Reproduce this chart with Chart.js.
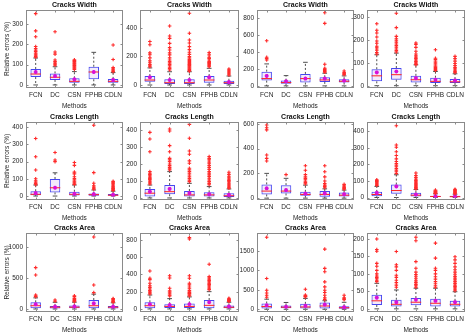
<!DOCTYPE html>
<html>
<head>
<meta charset="utf-8">
<script src="https://cdn.jsdelivr.net/npm/chart.js@4.4.1/dist/chart.umd.min.js"></script>
<style>
  html, body { margin: 0; padding: 0; background: #ffffff; }
  body { width: 474px; height: 334px; position: relative; overflow: hidden; }
  canvas { position: absolute; }
</style>
</head>
<body>
<script>
// ---- data: 12 panels (rows: width, length, area; 4 test sets each) ----
const methods = ['FCN', 'DC', 'CSN', 'FPHB', 'CDLN'];
const panelTitles = [
  'Cracks Width', 'Cracks Width', 'Cracks Width', 'Cracks Width',
  'Cracks Length', 'Cracks Length', 'Cracks Length', 'Cracks Length',
  'Cracks Area', 'Cracks Area', 'Cracks Area', 'Cracks Area'
];
const yMin = [-15, -21, -25, -10, -23, -12, -15, -15, -48, -35, -70, -9];
const yMax = [370, 526, 895, 330, 430, 447, 615, 455, 1225, 881, 1966, 217];
const yTicks = [
  [0, 100, 200, 300], [0, 200, 400], [0, 200, 400, 600, 800], [0, 100, 200, 300],
  [0, 100, 200, 300, 400], [0, 100, 200, 300, 400], [0, 200, 400, 600], [0, 100, 200, 300, 400],
  [0, 500, 1000], [0, 200, 400, 600, 800], [0, 500, 1000, 1500], [0, 50, 100, 150, 200]
];

const q1 = [
  [39, 25, 11, 28, 11], [23, 7, 7, 16, 7], [62, 24, 39, 47, 39], [19, 26, 14, 12, 12],
  [5, 21, 3, 2, 1], [8, 22, 8, 8, 6], [30, 38, 19, 11, 14], [8, 22, 6, 3, 3],
  [11, 10, 12, 11, 10], [8, 10, 10, 8, 8], [20, 25, 20, 18, 15], [11, 7, 10, 7, 7]
];
const median = [
  [54, 38, 18, 64, 18], [35, 16, 16, 35, 16], [86, 39, 86, 70, 55], [43, 48, 26, 19, 17],
  [10, 48, 10, 8, 5], [28, 37, 18, 18, 13], [57, 57, 30, 30, 24], [18, 42, 14, 6, 5],
  [53, 30, 30, 53, 30], [38, 30, 30, 42, 20], [70, 55, 60, 85, 40], [23, 13, 19, 16, 13]
];
const q3 = [
  [79, 57, 33, 90, 30], [63, 40, 40, 63, 30], [168, 62, 141, 102, 79], [72, 77, 43, 35, 29],
  [28, 99, 25, 15, 12], [53, 76, 41, 33, 28], [111, 105, 51, 57, 46], [34, 78, 28, 10, 10],
  [108, 50, 55, 145, 50], [78, 55, 65, 104, 40], [150, 100, 140, 173, 80], [40, 26, 31, 29, 23]
];
const whiskerLow = [
  [0, 0, 0, 0, 0], [0, 0, 0, 0, 0], [0, 0, 0, 0, 0], [0, 0, 0, 0, 0],
  [0, 0, 0, 0, 0], [0, 0, 0, 0, 0], [0, 0, 0, 0, 0], [0, 0, 0, 0, 0],
  [0, 0, 0, 0, 0], [0, 0, 0, 0, 0], [0, 0, 0, 0, 0], [0, 0, 0, 0, 0]
];
const whiskerHigh = [
  [133, 90, 66, 161, 61], [120, 93, 93, 117, 63], [259, 121, 278, 149, 118], [135, 142, 91, 62, 52],
  [64, 135, 64, 35, 28], [76, 155, 86, 67, 53], [200, 160, 105, 75, 65], [67, 137, 48, 22, 20],
  [180, 108, 110, 240, 100], [162, 120, 140, 201, 78], [260, 175, 280, 220, 180], [73, 54, 59, 59, 49]
];
const means = [
  [64, 44, 28, 64, 25], [54, 35, 35, 54, 21], [118, 55, 86, 86, 63], [58, 62, 33, 26, 23],
  [17, 48, 13, 11, 8], [37, 53, 28, 22, 18], [79, 65, 37, 38, 32], [28, 67, 18, 8, 8],
  [76, 40, 42, 92, 40], [54, 45, 55, 78, 30], [104, 65, 90, 122, 55], [32, 19, 26, 23, 19]
];
const outliers = [
  [[352, 267, 238, 190, 180, 172, 165, 158, 152, 147, 141, 137], [263, 163, 152, 123, 115, 108, 102, 97],
   [124, 120, 116, 112, 108, 104, 100, 96, 92, 88, 84, 80, 76], [], [197, 126, 86, 80, 75, 70, 66]],
  [[305, 282, 225, 212, 190, 170, 160, 145, 135, 128],
   [414, 344, 327, 292, 262, 246, 225, 211, 190, 175, 165, 155, 145, 135, 125, 115, 105],
   [503, 363, 316, 295, 269, 248, 230, 215, 200, 190, 180, 172, 165, 158, 150, 144, 138, 132, 126, 120, 114, 108, 102, 96],
   [227, 211, 195, 187, 175, 164, 158, 152, 146, 140, 134, 128], [112, 105, 98, 91, 84, 77, 70]],
  [[533, 338, 322, 306], [], [], [862, 737, 255, 208, 195, 182, 168, 160], [176, 157, 145, 133]],
  [[270, 242, 230, 212, 195, 185, 172, 165, 155, 145, 138],
   [316, 253, 215, 205, 198, 190, 182, 175, 168, 160, 153, 147],
   [186, 180, 167, 150, 138, 130, 124, 118, 112, 106, 100, 96, 92],
   [157, 120, 114, 108, 102, 96, 90, 85, 80, 75, 70, 66], [128, 118, 107, 97, 88, 80, 74, 68, 62, 57]],
  [[334, 228, 151, 100, 88, 80, 72, 66], [253, 209, 200],
   [195, 178, 140, 134, 128, 112, 102, 94, 86, 80, 74, 68], [411, 136, 74, 60, 52, 45, 40],
   [85, 80, 75, 70, 64, 58, 53, 48, 44, 40, 36, 32]],
  [[386, 347, 272, 155, 145, 138, 130, 122, 115, 108, 100, 94, 88, 82],
   [406, 394, 308, 272, 233, 224, 214, 200, 190, 180, 172, 165],
   [433, 351, 276, 257, 218, 204, 175, 165, 155, 145, 135, 125, 115, 105, 96],
   [243, 232, 224, 212, 204, 192, 180, 168, 156, 146, 136, 126, 116, 106, 96, 86, 78],
   [151, 139, 128, 118, 110, 102, 95, 88, 82, 76, 70, 64, 58]],
  [[591, 569, 551, 348, 321, 300], [190], [262, 225, 190, 172, 160, 148, 136, 125, 115],
   [262, 213, 172, 138, 118, 105, 95, 84], [111, 100, 92, 85, 78, 72]],
  [[107, 102, 97, 92, 87, 82, 77, 72],
   [432, 316, 303, 276, 253, 233, 217, 205, 195, 185, 175, 165, 155, 145],
   [148, 132, 120, 110, 102, 95, 88, 82, 76, 70, 65, 60, 56, 52],
   [45, 41, 38, 35, 32, 29, 26, 24], [50, 46, 42, 38, 35, 32, 29, 26, 23]],
  [[667, 548, 226, 210, 200], [145, 125], [215, 199, 172, 155, 140, 128, 118], [1161, 387, 265],
   [170, 155, 142, 130, 120, 110]],
  [[440, 356, 340, 298, 270, 250, 232, 215, 200, 188, 175], [386, 360, 240, 210, 195, 175, 160, 150],
   [827, 812, 386, 356, 298, 280, 255, 235, 215, 200, 190, 180, 170, 160, 150],
   [518, 375, 360, 345, 330, 315, 300, 285, 270, 255, 240, 225], [124, 115, 108, 100, 94, 88]],
  [[1857, 795, 490, 420, 360, 310], [], [518, 365, 345, 330, 315],
   [1550, 1054, 966, 707, 578, 492, 432, 363, 293, 250], [363, 295, 270, 250]],
  [[200, 170, 165, 130, 122, 110, 100, 94, 90, 86, 82, 78],
   [164, 126, 120, 110, 96, 90, 82, 75, 68, 62],
   [205, 195, 135, 116, 105, 98, 92, 86, 80, 75, 70, 66, 62],
   [188, 145, 116, 110, 100, 92, 85, 78, 72, 66, 62],
   [149, 140, 130, 120, 112, 105, 99, 93, 88, 83, 78, 73, 68, 64, 60, 56, 52]]
];

// ---- page layout of the 3 x 4 grid of axes (plot-area edges in px) ----
const COL_LEFT = [26, 140, 257, 367];
const COL_RIGHT = [125, 241, 356, 467];
const ROW_TOP = [10, 122, 233];
const ROW_BOTTOM = [88, 200, 312];
const Y_AXIS_W = 26, X_AXIS_H = 24, TITLE_H = 10, RIGHT_PAD = 3;

const BOX_HALF = 0.27;   // half box width in category units
const CAP_HALF = 0.12;   // half whisker-cap width

const FONT = '"Liberation Sans", Arial, Helvetica, sans-serif';
const TEXT_COLOR = '#262626';

// frame around each axes with small inward tick marks
const framePlugin = {
  id: 'frame',
  afterDatasetsDraw(chart) {
    const { ctx, chartArea: a, scales: { x, y } } = chart;
    ctx.save();
    ctx.strokeStyle = '#8a8a8a';
    ctx.lineWidth = 1;
    const L = Math.round(a.left) + 0.5, R = Math.round(a.right) - 0.5;
    const T = Math.round(a.top) + 0.5, B = Math.round(a.bottom) - 0.5;
    ctx.strokeRect(L, T, R - L, B - T);
    ctx.beginPath();
    y.ticks.forEach(t => {
      const py = Math.round(y.getPixelForValue(t.value)) + 0.5;
      ctx.moveTo(L, py); ctx.lineTo(L + 2, py);
      ctx.moveTo(R, py); ctx.lineTo(R - 2, py);
    });
    x.ticks.forEach(t => {
      const px = Math.round(x.getPixelForValue(t.value)) + 0.5;
      ctx.moveTo(px, B); ctx.lineTo(px, B - 2);
      ctx.moveTo(px, T); ctx.lineTo(px, T + 2);
    });
    ctx.stroke();
    ctx.restore();
  }
};

function buildPanel(p) {
  const row = Math.floor(p / 4), col = p % 4;
  const plotW = COL_RIGHT[col] - COL_LEFT[col];
  const plotH = ROW_BOTTOM[row] - ROW_TOP[row];
  const canvas = document.createElement('canvas');
  const w = plotW + Y_AXIS_W + RIGHT_PAD;
  const h = plotH + TITLE_H + X_AXIS_H;
  canvas.width = w; canvas.height = h;
  canvas.style.width = w + 'px'; canvas.style.height = h + 'px';
  canvas.style.left = (COL_LEFT[col] - Y_AXIS_W) + 'px';
  canvas.style.top = (ROW_TOP[row] - TITLE_H) + 'px';
  document.body.appendChild(canvas);

  const boxes = [], whiskers = [], caps = [], medians = [], meanPts = [], outPts = [];
  methods.forEach((m, i) => {
    const xc = i + 1;
    boxes.push({ x: xc, y: [q1[p][i], q3[p][i]] });
    whiskers.push({ x: xc, y: q3[p][i] }, { x: xc, y: whiskerHigh[p][i] }, { x: xc, y: null },
                  { x: xc, y: q1[p][i] }, { x: xc, y: whiskerLow[p][i] }, { x: xc, y: null });
    caps.push({ x: xc - CAP_HALF, y: whiskerHigh[p][i] }, { x: xc + CAP_HALF, y: whiskerHigh[p][i] }, { x: xc, y: null },
              { x: xc - CAP_HALF, y: whiskerLow[p][i] }, { x: xc + CAP_HALF, y: whiskerLow[p][i] }, { x: xc, y: null });
    medians.push({ x: xc - BOX_HALF, y: median[p][i] }, { x: xc + BOX_HALF, y: median[p][i] }, { x: xc, y: null });
    meanPts.push({ x: xc, y: means[p][i] });
    outliers[p][i].forEach(v => outPts.push({ x: xc, y: v }));
  });

  const seg = { type: 'line', pointRadius: 0, tension: 0, fill: false, spanGaps: false };

  new Chart(canvas, {
    type: 'bar',
    data: {
      datasets: [
        { ...seg, data: outPts, showLine: false, pointRadius: 1.8, pointStyle: 'cross',
          pointBorderColor: '#ff2a2a', pointBorderWidth: 1.1, order: 0 },
        { ...seg, data: meanPts, showLine: false, pointRadius: 2, pointStyle: 'star',
          pointBorderColor: '#d810d8', pointBorderWidth: 1.2, order: 1 },
        { ...seg, data: medians, borderColor: '#ff2020', borderWidth: 1, order: 2 },
        { ...seg, data: caps, borderColor: '#222222', borderWidth: 0.8, order: 3 },
        { ...seg, data: whiskers, borderColor: '#222222', borderWidth: 0.8, borderDash: [2, 2], order: 4 },
        { type: 'bar', data: boxes, backgroundColor: 'rgba(214,190,242,0.3)', borderColor: '#4646f0',
          borderWidth: 1, borderSkipped: false, barPercentage: BOX_HALF * 2, categoryPercentage: 1, order: 5 }
      ]
    },
    options: {
      responsive: false,
      animation: false,
      devicePixelRatio: 1,
      layout: { padding: { left: 0, right: RIGHT_PAD, top: 0, bottom: 0 } },
      plugins: {
        legend: { display: false },
        tooltip: { enabled: false },
        title: {
          display: true, text: panelTitles[p], fullSize: false, color: '#111111',
          font: { family: FONT, size: 7, weight: 'bold', lineHeight: 1.2 },
          padding: { top: 1, bottom: 0.6 }
        }
      },
      scales: {
        x: {
          type: 'linear', min: 0.5, max: 5.5, offset: false,
          afterBuildTicks: s => { s.ticks = methods.map((m, i) => ({ value: i + 1 })); },
          afterFit: s => { s.height = X_AXIS_H; },
          ticks: { callback: v => methods[v - 1], color: TEXT_COLOR, autoSkip: false, maxRotation: 0,
                   padding: 3, font: { family: FONT, size: 6.5, lineHeight: 1.2 } },
          grid: { display: false, drawTicks: false },
          border: { display: false },
          title: { display: true, text: 'Methods', color: TEXT_COLOR, padding: { top: 0, bottom: 2 },
                   font: { family: FONT, size: 6.5, lineHeight: 1.2 } }
        },
        y: {
          type: 'linear', min: yMin[p], max: yMax[p],
          afterBuildTicks: s => { s.ticks = yTicks[p].map(v => ({ value: v })); },
          afterFit: s => { s.width = Y_AXIS_W; },
          ticks: { callback: v => String(v), color: TEXT_COLOR, padding: 3,
                   font: { family: FONT, size: 6.5, lineHeight: 1.2 } },
          grid: { display: false, drawTicks: false },
          border: { display: false },
          title: { display: col === 0, text: 'Relative errors (%)', color: TEXT_COLOR,
                   padding: { top: 3, bottom: 0 }, font: { family: FONT, size: 6.5, lineHeight: 1.2 } }
        }
      }
    },
    plugins: [framePlugin]
  });
}

for (let p = 0; p < 12; p++) buildPanel(p);
</script>
</body>
</html>
